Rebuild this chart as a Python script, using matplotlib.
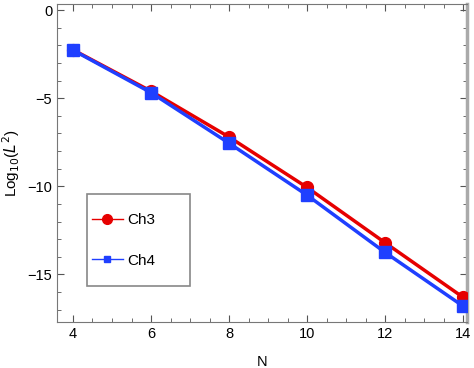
import matplotlib
matplotlib.use("Agg")
import matplotlib.pyplot as plt
from matplotlib.ticker import MultipleLocator
from matplotlib.lines import Line2D
from matplotlib.patches import Rectangle

plt.rcParams['font.family'] = ['Liberation Sans', 'DejaVu Sans']

N = [4, 6, 8, 10, 12, 14]
ch3 = [-2.25, -4.6, -7.2, -10.06, -13.2, -16.3]
ch4 = [-2.27, -4.68, -7.55, -10.5, -13.75, -16.8]

W, H = 474, 368
fig = plt.figure(figsize=(W/100, H/100), dpi=100)
ax = fig.add_axes([57/W, 1-322/H, (467-57)/W, (322-4)/H])

ax.plot(N, ch3, color='#e60000', lw=2.5, marker='o', ms=8.5, zorder=3)
ax.plot(N, ch4, color='#1f3fff', lw=2.5, marker='s', ms=9, zorder=4)

ax.set_xlim(3.59, 14.1)
ax.set_ylim(-17.7, 0.35)
ax.xaxis.set_major_locator(MultipleLocator(2))
ax.xaxis.set_minor_locator(MultipleLocator(0.5))
ax.yaxis.set_major_locator(MultipleLocator(5))
ax.yaxis.set_minor_locator(MultipleLocator(1))
ax.tick_params(which='both', direction='in', top=True, right=True, color='#555555', labelsize=10.5)
ax.tick_params(which='major', length=5)
ax.tick_params(which='minor', length=3)
for s in ax.spines.values():
    s.set_color('#777777')
ax.spines['right'].set_linewidth(2.5)
ax.spines['right'].set_color('#aaaaaa')

ax.set_xlabel('N', fontsize=10.5, labelpad=10)
ax.set_ylabel(r'Log$_{10}$($L^2$)', fontsize=11)

# legend frame
fig.patches.append(Rectangle((87/W, 1-286/H), (190-87)/W, (286-194)/H,
                             transform=fig.transFigure, fill=True, facecolor='white',
                             edgecolor='#888888', lw=1.2, zorder=5))

handles = [Line2D([], [], color='#e60000', lw=1, marker='o', ms=7),
           Line2D([], [], color='#1f3fff', lw=1, marker='s', ms=4)]
leg = fig.legend(handles, ['Ch3', 'Ch4'], loc='upper left',
                 bbox_to_anchor=(92/W, 1-213/H), frameon=False, fontsize=11,
                 handlelength=2.0, labelspacing=1.75, borderpad=0, handletextpad=0.3,
                 borderaxespad=0)
leg.set_zorder(6)

fig.savefig('out.png', dpi=100)
